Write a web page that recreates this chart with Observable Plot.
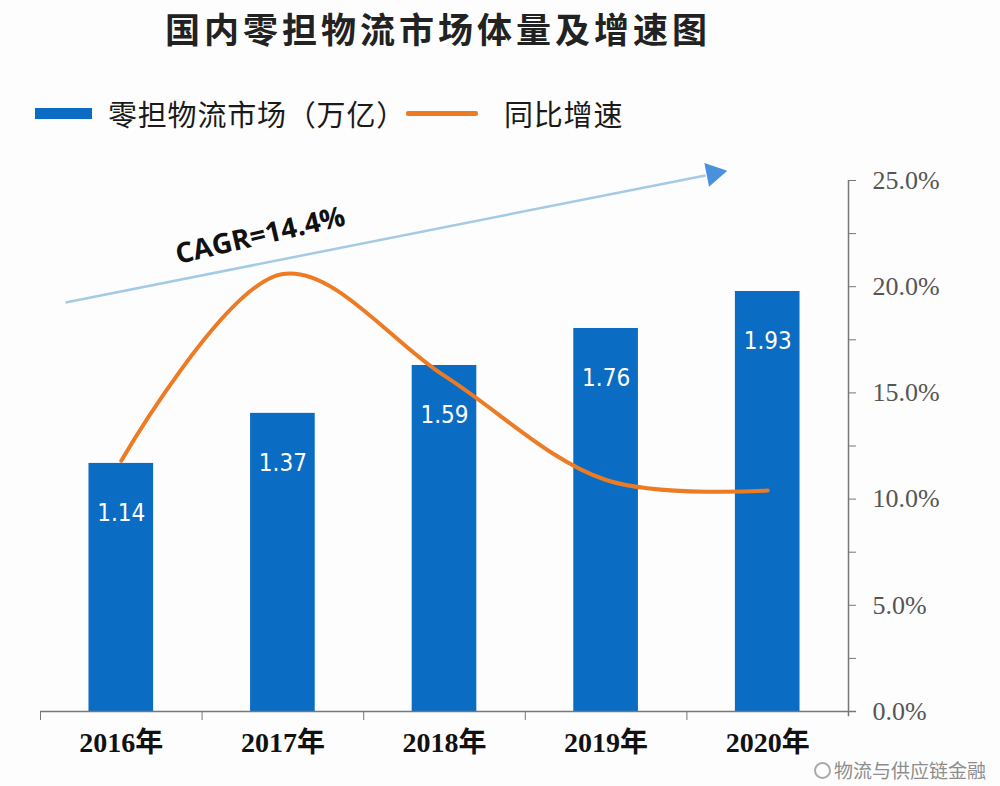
<!DOCTYPE html>
<html>
<head>
<meta charset="utf-8">
<script src="https://cdn.jsdelivr.net/npm/d3@7"></script>
<script src="https://cdn.jsdelivr.net/npm/@observablehq/plot@0.6"></script>
<style>
  html, body { margin: 0; padding: 0; background: #fdfdfd; }
  #wrap { position: relative; width: 1000px; height: 786px; overflow: hidden; }
  #title { position: absolute; left: 165px; top: 4px; font-family: "Noto Sans CJK SC", sans-serif; font-weight: 700; font-size: 35px; letter-spacing: 4px; color: #222; line-height: 48px; white-space: nowrap; }
  #legend { position: absolute; left: 35px; top: 92px; height: 42px; display: flex; align-items: center; font-family: "Noto Sans CJK SC", sans-serif; font-size: 29px; color: #1a1a1a; white-space: nowrap; }
  #legend span { letter-spacing: 0.8px; }
  .sw-bar { width: 57px; height: 11px; background: #0b6cc3; margin-right: 16px; }
  .sw-line { width: 72px; height: 5px; background: #ec7b24; margin-left: 0px; margin-right: 26px; border-radius: 2px; }
  #spacer { height: 140px; }
  #wm { position: absolute; left: 814px; top: 758px; font-family: "Noto Sans CJK SC", sans-serif; font-size: 19px; line-height: 24px; color: #8d8d8d; white-space: nowrap; display: flex; align-items: center; }
  #wm .ic { width: 13px; height: 13px; border: 2px solid #aaa; border-radius: 50%; margin-right: 3px; }
</style>
</head>
<body>
<div id="wrap">
  <div id="title">国内零担物流市场体量及增速图</div>
  <div id="legend">
    <div class="sw-bar"></div><span>零担物流市场（万亿）</span>
    <div class="sw-line"></div><span>同比增速</span>
  </div>
  <div id="spacer"></div>
  <div id="chart"></div>
  <div id="wm"><span class="ic"></span>物流与供应链金融</div>
</div>
<script>
// ---- data ----
const years = [2016, 2017, 2018, 2019, 2020];
const yearLabels = ["2016年", "2017年", "2018年", "2019年", "2020年"];
const marketSize = [1.14, 1.37, 1.59, 1.76, 1.93];      // 万亿
const growthRate = [11.8, 20.6, 15.8, 10.9, 10.4];       // %
const rightTicks = [0, 5, 10, 15, 20, 25];
const minorTicks = d3.range(0, 25.01, 2.5);
const leftMax = 2.44;                                     // hidden left axis max (万亿)
const cagrLabel = "CAGR=14.4%";
const cagrArrow = {x1: 2015.655, y1: 19.26, x2: 2019.615, y2: 25.24, tipX: 2019.665, tipY: 25.33};
const cagrText = {x: 2016.86, y: 22.4};

const bars = years.map((y, i) => ({year: y, value: marketSize[i], label: yearLabels[i]}));
const rates = years.map((y, i) => ({year: y, rate: growthRate[i]}));
const toRight = v => v / leftMax * 25;
const boundaries = d3.range(years[0] - 0.5, years[years.length - 1], 1);

const chart = Plot.plot({
  width: 1000,
  height: 646,
  marginLeft: 40,
  marginRight: 152,
  marginTop: 40,
  marginBottom: 75,
  x: {domain: [2015.5, 2020.5], axis: null},
  y: {domain: [0, 25], axis: null},
  style: {background: "transparent", overflow: "visible"},
  marks: [
    // bars
    Plot.rectY(bars, {x1: d => d.year - 0.2, x2: d => d.year + 0.2, y1: 0, y2: d => toRight(d.value), fill: "#0b6cc3"}),
    Plot.text(bars, {x: "year", y: d => toRight(d.value), text: d => d.value.toFixed(2), dy: 50, fill: "white",
      fontSize: 24, fontFamily: "'DejaVu Sans Condensed', 'Liberation Sans Narrow', sans-serif", letterSpacing: 1.5}),
    // growth line
    Plot.line(rates, {x: "year", y: "rate", stroke: "#ec7b24", strokeWidth: 4, curve: "catmull-rom"}),
    // x axis
    Plot.ruleY([0], {x1: 2015.5, x2: 2020.55, stroke: "#777", strokeWidth: 1.5}),
    Plot.axisX({ticks: boundaries, tickSize: 9, tickFormat: () => "", stroke: "#777"}),
    Plot.axisX({ticks: years, tickSize: 0, tickPadding: 21, tickFormat: (d) => yearLabels[years.indexOf(d)],
      fontSize: 28, fontWeight: "bold", fontFamily: "'Liberation Serif', 'Noto Sans CJK SC', serif", fill: "#111"}),
    // right axis
    Plot.ruleX([2020.5], {y1: -0.25, y2: 25, stroke: "#777", strokeWidth: 1.5}),
    Plot.axisY({anchor: "right", ticks: minorTicks, tickSize: 7, tickFormat: () => "", stroke: "#777"}),
    Plot.axisY({anchor: "right", ticks: rightTicks, tickSize: 0, tickPadding: 24, textAnchor: "start",
      tickFormat: d => d.toFixed(1) + "%", fontSize: 26, fontFamily: "'Liberation Serif', serif", fill: "#555"}),
    // CAGR arrow
    Plot.link([cagrArrow], {x1: "x1", y1: "y1", x2: "x2", y2: "y2", stroke: "#a3cbe6", strokeWidth: 2.5}),
    Plot.dot([cagrArrow], {x: "tipX", y: "tipY", symbol: "triangle", r: 9, fill: "#4a90db", rotate: 78.8}),
    Plot.text([cagrText], {x: "x", y: "y", text: () => cagrLabel, rotate: -13, fontSize: 28, fontWeight: "bold",
      fontFamily: "'Open Sans', 'Liberation Sans', sans-serif", fill: "#111"})
  ]
});
document.getElementById("chart").appendChild(chart);
</script>
</body>
</html>
